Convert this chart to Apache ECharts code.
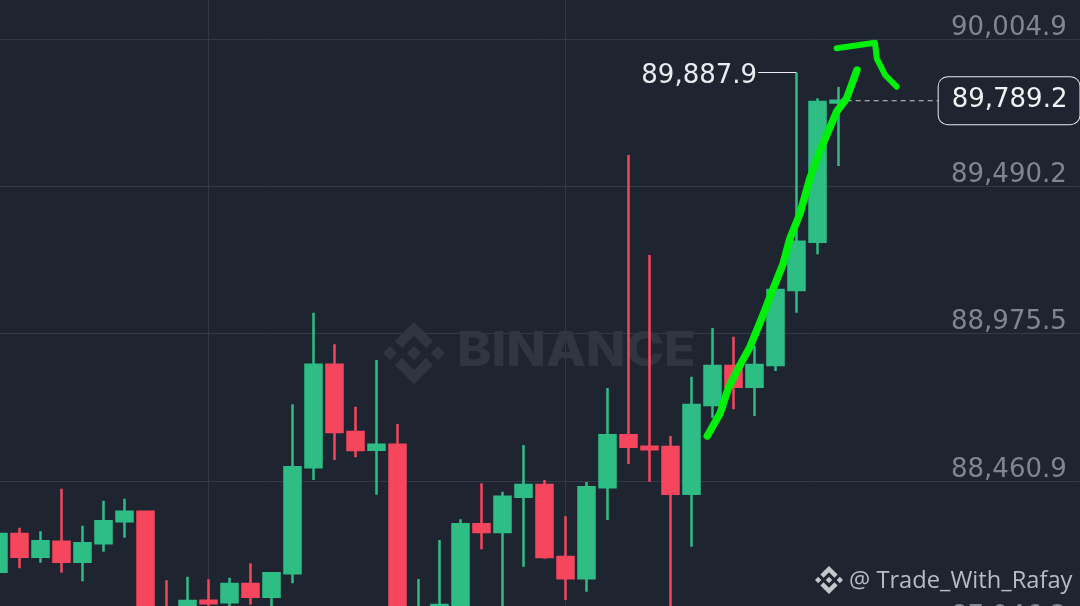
<!DOCTYPE html>
<html><head><meta charset="utf-8">
<style>html,body{margin:0;padding:0;background:#1e2430;overflow:hidden}#c{width:1080px;height:606px}</style>
<script src="https://cdn.jsdelivr.net/npm/echarts@6/dist/echarts.min.js"></script>
</head><body><div id="c"></div>
<script>
const categories = ["1","2","3","4","5","6","7","8","9","10","11","12","13","14","15","16","17","18","19","20","21","22","23","24","25","26","27","28","29","30","31","32","33","34","35","36","37","38","39","40","41","42","43","44","45","46","47","48","49","50","51","52"];
const opens  = [88143.4,88275.1,88195.8,88248.2,88178.3,88242.6,88319.5,88353.1,88002.6,87974.6,88042.0,88036.5,88100.4,88056.0,88137.8,88508.2,88866.8,88631.6,88569.7,88587.2,87939.7,87967.6,87992.1,88309.0,88282.2,88405.5,88446.4,88194.8,88120.3,88438.3,88620.0,88580.2,88579.2,88416.0,88725.9,88862.2,88789.9,88865.7,89127.8,89296.6,89783.0];
const closes = [88275.1,88195.8,88249.6,88178.3,88242.6,88319.5,88353.1,88002.6,87939.7,88041.0,88032.9,88100.4,88056.0,88137.8,88508.2,88866.8,88631.6,88568.7,88587.2,87992.1,88002.6,88027.0,88309.0,88282.2,88405.5,88446.4,88194.8,88120.3,88438.3,88620.0,88580.2,88571.1,88416.0,88725.9,88862.2,88789.9,88865.7,89127.8,89296.6,89784.8,89789.2];
const lows   = [88143.4,88155.3,88174.8,88139.9,88109.8,88213.3,88262.2,87957.0,87925.0,87939.7,88002.6,88002.6,88028.1,88002.6,88102.8,88463.8,88533.7,88543.2,88412.5,87992.1,87939.7,87939.7,87970.0,88221.6,88002.6,88160.9,88188.8,88044.5,88073.5,88324.1,88519.8,88457.9,88002.6,88230.8,88680.5,88710.9,88687.5,88844.7,89048.5,89252.5,89561.1];
const highs  = [88275.1,88297.2,88284.6,88433.4,88304.2,88391.5,88398.5,88353.1,88113.3,88125.9,88116.8,88122.4,88172.7,88137.8,88728.4,89048.5,88938.0,88720.0,88883.2,88659.5,88117.9,88254.2,88326.5,88452.3,88423.0,88586.2,88463.8,88337.0,88456.9,88785.3,89599.6,89250.1,88617.6,88824.8,88995.0,88964.6,88932.1,89162.7,89887.9,89797.7,89837.2];
const priceTicks = [87946.2,88460.9,88975.5,89490.2,90004.9];
const highLabel = 89887.9;
const lastPrice = 89789.2;
const strokeBars   = [33.76,34.37,34.76,35.32,35.80,36.19,36.51,36.75,37.38,37.70,38.18,38.65,39.21,39.69,39.92,40.40,40.89];
const strokePrices = [88617.6,88696.9,88784.3,88865.7,88929.7,88999.5,89057.9,89104.4,89221.1,89308.5,89395.8,89518.1,89628.6,89710.3,89750.9,89797.7,89896.6];
const hookBars   = [39.92,41.75,41.83,41.83,42.23,42.78];
const hookPrices = [89972.4,89992.0,89992.0,89937.5,89879.1,89838.2];

const BG='#1e2430', GRID='#333945', UP='#2ebd85', DOWN='#f6465d', TICK='#80868e', WHITE='#e9ebee', PEN='#00f00c';
const NUM='"DejaVu Sans"';
const fmt=v=>v.toLocaleString('en-US',{minimumFractionDigits:1,maximumFractionDigits:1});
const LOGO_PARTS=[
 [[38.73,53.2],[63.32,28.62],[87.92,53.22],[102.22,38.91],[63.32,0],[24.43,38.9]],
 [[0,63.31],[14.3,49],[28.61,63.31],[14.3,77.61]],
 [[38.73,73.41],[63.32,98],[87.92,73.4],[102.23,87.69],[63.32,126.61],[24.41,87.72]],
 [[98,63.31],[112.3,49.01],[126.61,63.31],[112.31,77.61]],
 [[77.83,63.3],[63.32,48.78],[48.81,63.28],[63.32,77.78]]
];
const logo=(x,y,size,fill,z)=>({type:'group',x,y,scaleX:size/126.61,scaleY:size/126.61,silent:true,
  children:LOGO_PARTS.map(p=>({type:'polygon',z,silent:true,shape:{points:p},style:{fill}}))});

const chart=echarts.init(document.getElementById('c'),null,{renderer:'canvas'});
chart.setOption({
  animation:false,
  backgroundColor:BG,
  grid:{left:-12.2,top:0,width:1092,height:640,containLabel:false,outerBoundsMode:'none'},
  xAxis:[
    {type:'category',data:categories,axisLine:{show:false},axisTick:{show:false},axisLabel:{show:false},
     splitLine:{show:true,alignWithLabel:true,interval:(i)=>i===10||i===27,lineStyle:{color:GRID,width:1}}},
    {type:'value',min:-0.5,max:51.5,show:false}
  ],
  yAxis:{type:'value',position:'right',min:87904.7,max:90141.2,
    axisLine:{show:false},
    axisTick:{show:false,customValues:priceTicks},
    splitLine:{show:true,lineStyle:{color:GRID,width:1}},
    axisLabel:{show:true,inside:true,customValues:priceTicks,formatter:fmt,margin:13,color:TICK,
      fontFamily:NUM,fontSize:26,align:'right',verticalAlign:'bottom',lineHeight:22}},
  series:[
    {type:'candlestick',z:3,barWidth:16,data:opens.map((o,i)=>[o,closes[i],lows[i],highs[i]]),
     itemStyle:{color:UP,color0:DOWN,borderColor:UP,borderColor0:DOWN,borderWidth:2.5,borderColorDoji:DOWN}},
    {type:'line',xAxisIndex:1,z:4,symbol:'none',silent:true,lineStyle:{color:WHITE,width:1.2},
     data:[{value:[36.18,highLabel],symbol:'circle',symbolSize:0,
            label:{show:true,position:'left',distance:1,offset:[0,4],formatter:fmt(highLabel),color:WHITE,fontFamily:NUM,fontSize:26}},
           {value:[38,highLabel]}]},
    {type:'line',xAxisIndex:1,z:4,symbol:'none',silent:true,lineStyle:{color:'#c9ccd1',width:1.2,type:[5,4]},
     data:[{value:[40.4,lastPrice]},
           {value:[44.78,lastPrice],symbol:'circle',symbolSize:0,
            label:{show:true,position:'right',distance:0,formatter:fmt(lastPrice),color:'#f1f2f4',fontFamily:NUM,fontSize:26,
              lineHeight:27,padding:[13,12,7,13],backgroundColor:BG,borderColor:WHITE,borderWidth:1,borderRadius:9}}]},
    {type:'line',xAxisIndex:1,z:8,symbol:'none',silent:true,smooth:false,
     lineStyle:{color:PEN,width:7.5,cap:'round',join:'round'},data:strokeBars.map((b,i)=>[b,strokePrices[i]])},
    {type:'line',xAxisIndex:1,z:8,symbol:'none',silent:true,smooth:false,
     lineStyle:{color:PEN,width:6,cap:'round',join:'round'},data:hookBars.map((b,i)=>[b,hookPrices[i]])}
  ],
  graphic:[
    logo(383,322,62,'#2f3541',1),
    {type:'text',x:457,y:352,scaleX:1.08,z:1,silent:true,style:{text:'BINANCE',font:'800 48px Inter',fill:'#2f3541',textVerticalAlign:'middle'}},
    logo(815,566,28,'#c4c7cc',100),
    {type:'text',x:849,y:581,z:100,silent:true,style:{text:'@ Trade_With_Rafay',font:'23.7px "Open Sans"',fill:'#b9bcc2',textVerticalAlign:'middle'}}
  ]
});
</script></body></html>
